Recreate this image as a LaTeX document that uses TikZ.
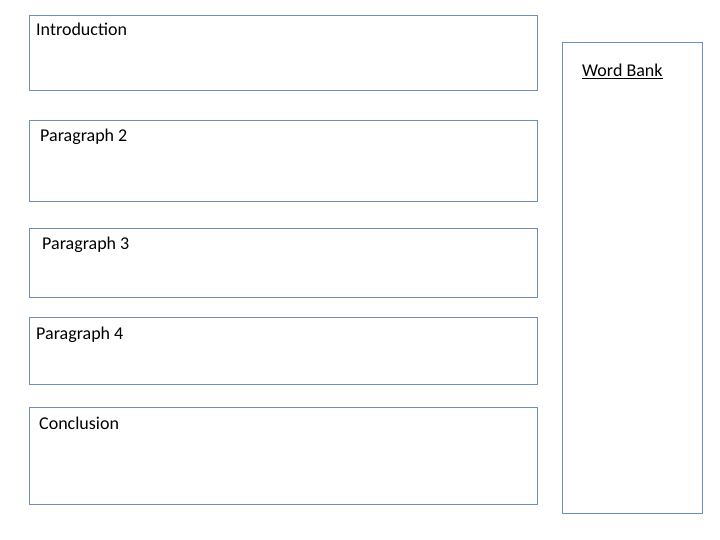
\documentclass[tikz,border=0pt]{standalone}
\usepackage{fontspec}
\setmainfont{Carlito}
\usetikzlibrary{positioning}
\definecolor{boxline}{RGB}{110,142,188}

\begin{document}
\begin{tikzpicture}[x=1pt,y=-1pt,
	box/.style={draw=boxline,line width=1pt,anchor=north west,inner sep=0pt},
	lbl/.style={anchor=base west,inner sep=0pt,font=\fontsize{18}{21}\selectfont}]
\useasboundingbox [fill=white] (0,0) rectangle (720,540);
% essay boxes
\node [box,minimum width=508pt,minimum height=75pt] (intro) at (29,15) {};
\node [box,minimum width=508pt,minimum height=81pt] (par2) at (29,120) {};
\node [box,minimum width=508pt,minimum height=69pt] (par3) at (29,228) {};
\node [box,minimum width=508pt,minimum height=67pt] (par4) at (29,317) {};
\node [box,minimum width=508pt,minimum height=97pt] (concl) at (29,407) {};
% word bank
\node [box,minimum width=140pt,minimum height=471pt] (bank) at (562,42) {};
% titles
\node [lbl] at ([xshift=7pt,yshift=-21pt]intro.north west) {Introduction};
\node [lbl] at ([xshift=11pt,yshift=-21.5pt]par2.north west) {Paragraph 2};
\node [lbl] at ([xshift=13pt,yshift=-21.5pt]par3.north west) {Paragraph 3};
\node [lbl] at ([xshift=7pt,yshift=-22pt]par4.north west) {Paragraph 4};
\node [lbl] at ([xshift=10pt,yshift=-22.5pt]concl.north west) {Conclusion};
\node [lbl] at ([xshift=20pt,yshift=-35pt]bank.north west) {\underline{Word Bank}};
\end{tikzpicture}
\end{document}
